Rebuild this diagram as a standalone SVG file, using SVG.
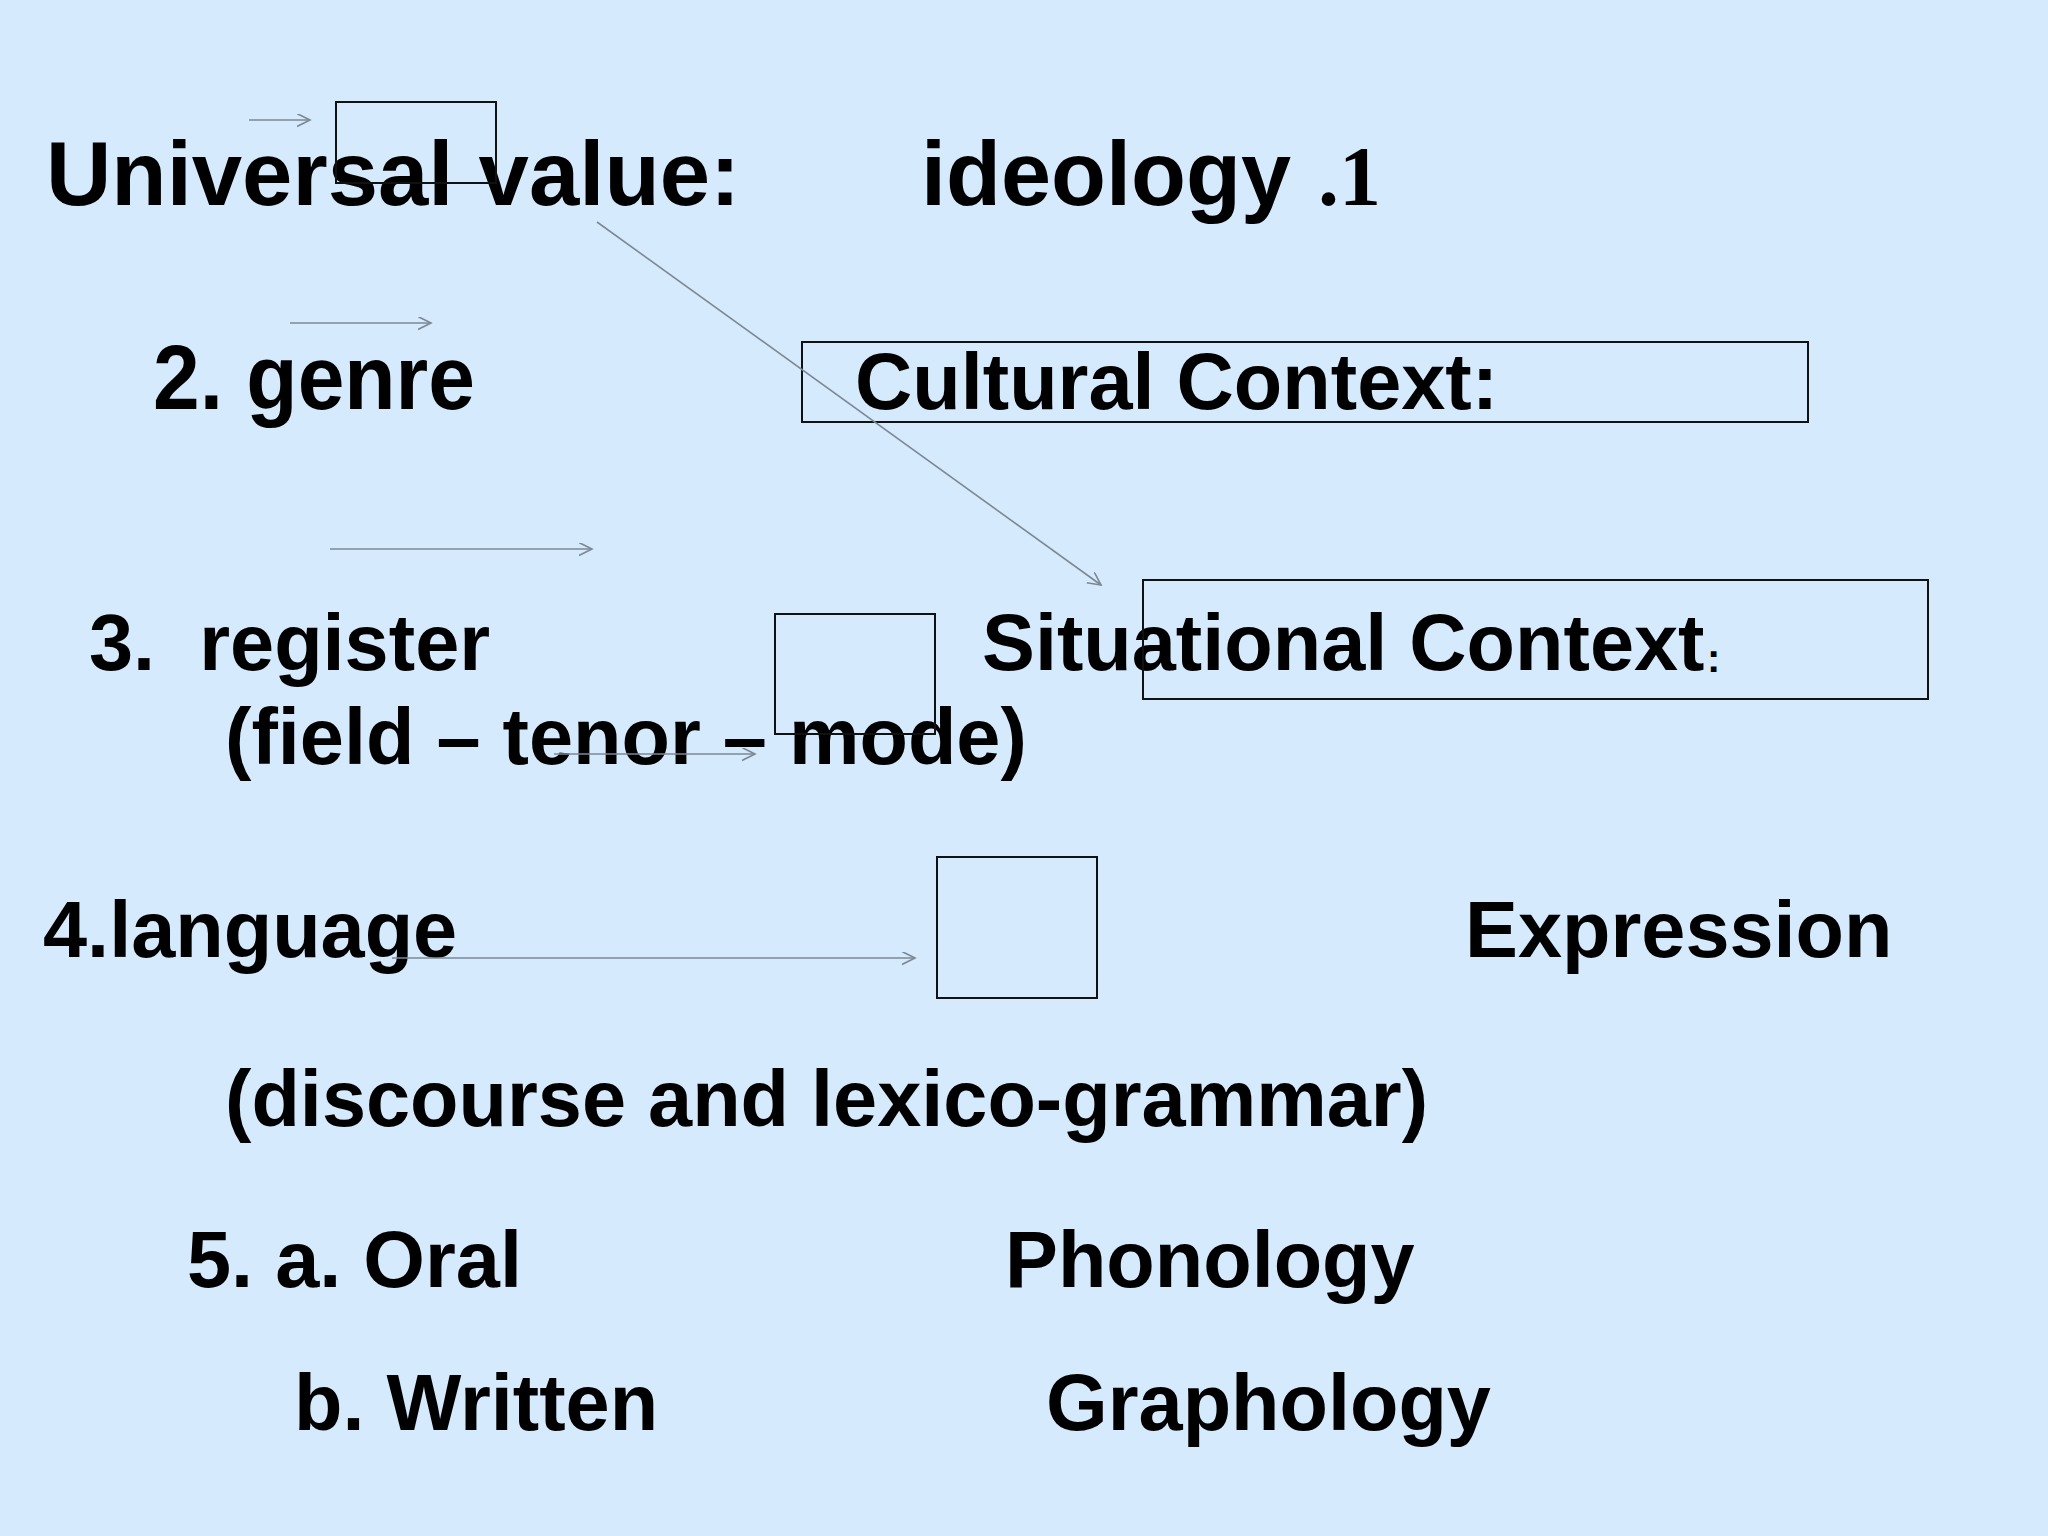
<svg xmlns="http://www.w3.org/2000/svg" width="2048" height="1536" viewBox="0 0 2048 1536">
<defs>
<style>
.t{font-family:"Liberation Sans",Arial,sans-serif;font-weight:bold;fill:#000;}
.m{font-size:79.3px;}
.s{font-family:"Liberation Serif","Times New Roman",serif;font-weight:bold;fill:#000;}
.box{fill:none;stroke:#111;stroke-width:2;}
.arr{fill:none;stroke:#7b8896;stroke-width:1.6;marker-end:url(#ah);}
</style>
<marker id="ah" markerUnits="userSpaceOnUse" markerWidth="16" markerHeight="16" refX="13" refY="6.5" orient="auto">
<path d="M0,0 L13,6.5 L0,13" fill="none" stroke="#7b8896" stroke-width="1.6"/>
</marker>
</defs>
<rect x="0" y="0" width="2048" height="1536" fill="#D6EAFD"/>
<g id="texts">
<g id="n-universal"><text class="t" x="46" y="205" font-size="90.5">Universal value:</text></g>
<g id="n-ideology"><text class="t" x="921" y="205" font-size="90">ideology</text><text class="s" x="1318" y="205" font-size="84">.1</text></g>
<g id="n-genre"><text class="t" x="153" y="409" font-size="90" textLength="322" lengthAdjust="spacingAndGlyphs">2. genre</text></g>
<g id="n-cultural"><text class="t m" x="855" y="409">Cultural Context:</text></g>
<g id="n-register"><text class="t m" x="89" y="670" xml:space="preserve">3.  register</text><text class="t m" x="225" y="764">(field – tenor – mode)</text></g>
<g id="n-situational"><text class="t m" x="982" y="670">Situational Context</text><text class="t" x="1707" y="672" font-size="40">:</text></g>
<g id="n-language"><text class="t m" x="43" y="957">4.language</text></g>
<g id="n-expression"><text class="t m" x="1465" y="957">Expression</text></g>
<g id="n-discourse"><text class="t m" x="225" y="1126">(discourse and lexico-grammar)</text></g>
<g id="n-oral"><text class="t m" x="187" y="1287">5. a. Oral</text></g>
<g id="n-phonology"><text class="t m" x="1005" y="1287">Phonology</text></g>
<g id="n-written"><text class="t m" x="294" y="1430">b. Written</text></g>
<g id="n-graphology"><text class="t m" x="1046" y="1430">Graphology</text></g>
</g>
<g id="boxes">
<g id="box1"><rect class="box" x="336" y="102" width="160" height="81"/></g>
<g id="box-cultural"><rect class="box" x="802" y="342" width="1006" height="80"/></g>
<g id="box3"><rect class="box" x="775" y="614" width="160" height="120"/></g>
<g id="box-situational"><rect class="box" x="1143" y="580" width="785" height="119"/></g>
<g id="box5"><rect class="box" x="937" y="857" width="160" height="141"/></g>
</g>
<g id="connectors">
<line class="arr" x1="249" y1="120" x2="310" y2="120"/>
<line class="arr" x1="290" y1="323" x2="431" y2="323"/>
<line class="arr" x1="330" y1="549" x2="592" y2="549"/>
<line class="arr" x1="554" y1="754" x2="755" y2="754"/>
<line class="arr" x1="392" y1="958" x2="915" y2="958"/>
<line class="arr" x1="597" y1="222" x2="1101" y2="585"/>
</g>
</svg>
